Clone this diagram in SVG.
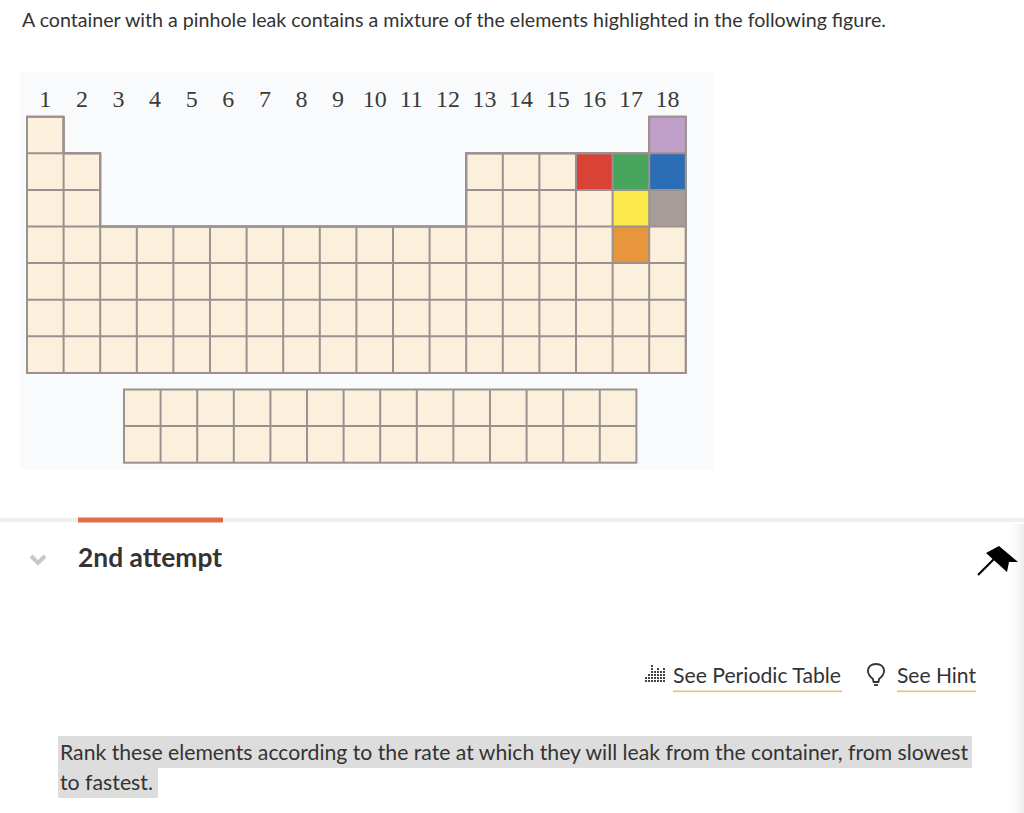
<svg xmlns="http://www.w3.org/2000/svg" width="1024" height="813" viewBox="0 0 1024 813">
<defs>
<style>
.sans{font-family:Lato,"Liberation Sans",sans-serif;fill:#333333}
.lbl{font-family:"Liberation Serif","DejaVu Serif",serif;font-size:24px;fill:#3a3a3a;text-anchor:middle}
.cell{fill:#faf0dc;stroke:#9c918f;stroke-width:2}
.grid{fill:none;stroke:#9c918f;stroke-width:2}
.dot{fill:#444}
</style>
<linearGradient id="edge" x1="0" y1="0" x2="1" y2="0">
<stop offset="0" stop-color="#ffffff" stop-opacity="0"/>
<stop offset="1" stop-color="#ececec"/>
</linearGradient>
</defs>
<rect width="1024" height="813" fill="#ffffff"/>
<rect x="1006" y="524" width="18" height="289" fill="url(#edge)"/>

<g id="header">
<text class="sans" x="22" y="27" font-size="19.5" textLength="864" lengthAdjust="spacingAndGlyphs">A container with a pinhole leak contains a mixture of the elements highlighted in the following figure.</text>
</g>

<g id="periodic-table">
<rect x="20" y="72" width="693" height="398" fill="#f9fafc"/>
<g id="group-labels">
<text class="lbl" x="45.3" y="107">1</text>
<text class="lbl" x="81.9" y="107">2</text>
<text class="lbl" x="118.5" y="107">3</text>
<text class="lbl" x="155.1" y="107">4</text>
<text class="lbl" x="191.7" y="107">5</text>
<text class="lbl" x="228.3" y="107">6</text>
<text class="lbl" x="264.9" y="107">7</text>
<text class="lbl" x="301.5" y="107">8</text>
<text class="lbl" x="338.1" y="107">9</text>
<text class="lbl" x="374.7" y="107">10</text>
<text class="lbl" x="411.3" y="107">11</text>
<text class="lbl" x="447.9" y="107">12</text>
<text class="lbl" x="484.5" y="107">13</text>
<text class="lbl" x="521.1" y="107">14</text>
<text class="lbl" x="557.7" y="107">15</text>
<text class="lbl" x="594.3" y="107">16</text>
<text class="lbl" x="630.9" y="107">17</text>
<text class="lbl" x="667.5" y="107">18</text>
</g>
<g id="main-block">
<path class="cell" d="M27,116.7 H63.6 V153.3 H100.2 V226.5 H466.2 V153.3 H649.2 V116.7 H685.8 V372.9 H27 Z"/>
<g id="highlighted">
<rect id="el-purple" x="649.2" y="116.7" width="36.6" height="36.6" fill="#c09fc8"/>
<rect id="el-red" x="576" y="153.3" width="36.6" height="36.6" fill="#da4235"/>
<rect id="el-green" x="612.6" y="153.3" width="36.6" height="36.6" fill="#47a45c"/>
<rect id="el-blue" x="649.2" y="153.3" width="36.6" height="36.6" fill="#2c6eb5"/>
<rect id="el-yellow" x="612.6" y="189.9" width="36.6" height="36.6" fill="#fcea4b"/>
<rect id="el-gray" x="649.2" y="189.9" width="36.6" height="36.6" fill="#a79e9a"/>
<rect id="el-orange" x="612.6" y="226.5" width="36.6" height="36.6" fill="#e8963b"/>
</g>
<path class="grid" d="M27,153.3 H100.2 M466.2,153.3 H685.8 M27,189.9 H100.2 M466.2,189.9 H685.8 M27,226.5 H685.8 M27,263.1 H685.8 M27,299.7 H685.8 M27,336.3 H685.8
M63.6,116.7 V372.9 M100.2,153.3 V372.9 M136.8,226.5 V372.9 M173.4,226.5 V372.9 M210,226.5 V372.9 M246.6,226.5 V372.9 M283.2,226.5 V372.9 M319.8,226.5 V372.9 M356.4,226.5 V372.9 M393,226.5 V372.9 M429.6,226.5 V372.9 M466.2,153.3 V372.9 M502.8,153.3 V372.9 M539.4,153.3 V372.9 M576,153.3 V372.9 M612.6,153.3 V372.9 M649.2,116.7 V372.9"/>
<path class="grid" d="M27,116.7 H63.6 V153.3 H100.2 V226.5 H466.2 V153.3 H649.2 V116.7 H685.8 V372.9 H27 Z"/>
</g>
<g id="f-block">
<rect class="cell" x="124" y="389.5" width="512.4" height="73.2"/>
<path class="grid" d="M124,426.1 H636.4 M160.6,389.5 V462.7 M197.2,389.5 V462.7 M233.8,389.5 V462.7 M270.4,389.5 V462.7 M307,389.5 V462.7 M343.6,389.5 V462.7 M380.2,389.5 V462.7 M416.8,389.5 V462.7 M453.4,389.5 V462.7 M490,389.5 V462.7 M526.6,389.5 V462.7 M563.2,389.5 V462.7 M599.8,389.5 V462.7"/>
</g>
</g>

<g id="attempt-bar">
<rect x="0" y="518" width="1024" height="4" fill="#eeeeee"/>
<rect x="78" y="517.5" width="145" height="5" fill="#e06c4a"/>
<polyline points="31,556 38,563 45,556" fill="none" stroke="#c8c8c8" stroke-width="4"/>
<text class="sans" x="78" y="567" font-size="26" font-weight="bold" textLength="144" lengthAdjust="spacingAndGlyphs">2nd attempt</text>
<g id="flag-icon">
<line x1="978" y1="575" x2="994" y2="559" stroke="#000" stroke-width="2.2"/>
<polygon points="986,553 999,546 1018,562 1009,562 1007,572" fill="#000"/>
</g>
</g>

<g id="periodic-link">
<g id="chart-icon" class="dot">
<rect x="645" y="677" width="2" height="2"/><rect x="645" y="680" width="2" height="2"/>
<rect x="648" y="674" width="2" height="2"/><rect x="648" y="677" width="2" height="2"/><rect x="648" y="680" width="2" height="2"/>
<rect x="651" y="665" width="2" height="2"/><rect x="651" y="668" width="2" height="2"/><rect x="651" y="671" width="2" height="2"/><rect x="651" y="674" width="2" height="2"/><rect x="651" y="677" width="2" height="2"/><rect x="651" y="680" width="2" height="2"/>
<rect x="654" y="671" width="2" height="2"/><rect x="654" y="674" width="2" height="2"/><rect x="654" y="677" width="2" height="2"/><rect x="654" y="680" width="2" height="2"/>
<rect x="657" y="668" width="2" height="2"/><rect x="657" y="671" width="2" height="2"/><rect x="657" y="674" width="2" height="2"/><rect x="657" y="677" width="2" height="2"/><rect x="657" y="680" width="2" height="2"/>
<rect x="660" y="671" width="2" height="2"/><rect x="660" y="674" width="2" height="2"/><rect x="660" y="677" width="2" height="2"/><rect x="660" y="680" width="2" height="2"/>
<rect x="663" y="668" width="2" height="2"/><rect x="663" y="671" width="2" height="2"/><rect x="663" y="674" width="2" height="2"/><rect x="663" y="677" width="2" height="2"/><rect x="663" y="680" width="2" height="2"/>
</g>
<text class="sans" x="673" y="683" font-size="21" textLength="168" lengthAdjust="spacingAndGlyphs">See Periodic Table</text>
<rect x="673" y="690.5" width="169" height="1.6" fill="#e2c47a"/>
</g>

<g id="hint-link">
<path d="M873.5,682 L873,679 C869,676 868,673 868,671 C868,666.5 871.5,664 876,664 C880.5,664 884,666.5 884,671 C884,673 883,676 879,679 L878.5,682 Z" fill="none" stroke="#333" stroke-width="1.8" stroke-linejoin="round"/>
<line x1="874" y1="685" x2="878" y2="685" stroke="#333" stroke-width="1.8"/>
<text class="sans" x="897" y="683" font-size="21" textLength="79" lengthAdjust="spacingAndGlyphs">See Hint</text>
<rect x="897" y="690.5" width="79" height="1.6" fill="#e2c47a"/>
</g>

<g id="question">
<rect x="58" y="736" width="914" height="32" fill="#dddddd"/>
<rect x="58" y="768" width="100" height="30" fill="#dddddd"/>
<text class="sans" x="60" y="760" font-size="21" textLength="908" lengthAdjust="spacingAndGlyphs">Rank these elements according to the rate at which they will leak from the container, from slowest</text>
<text class="sans" x="60" y="790" font-size="21" textLength="93" lengthAdjust="spacingAndGlyphs">to fastest.</text>
</g>
</svg>
